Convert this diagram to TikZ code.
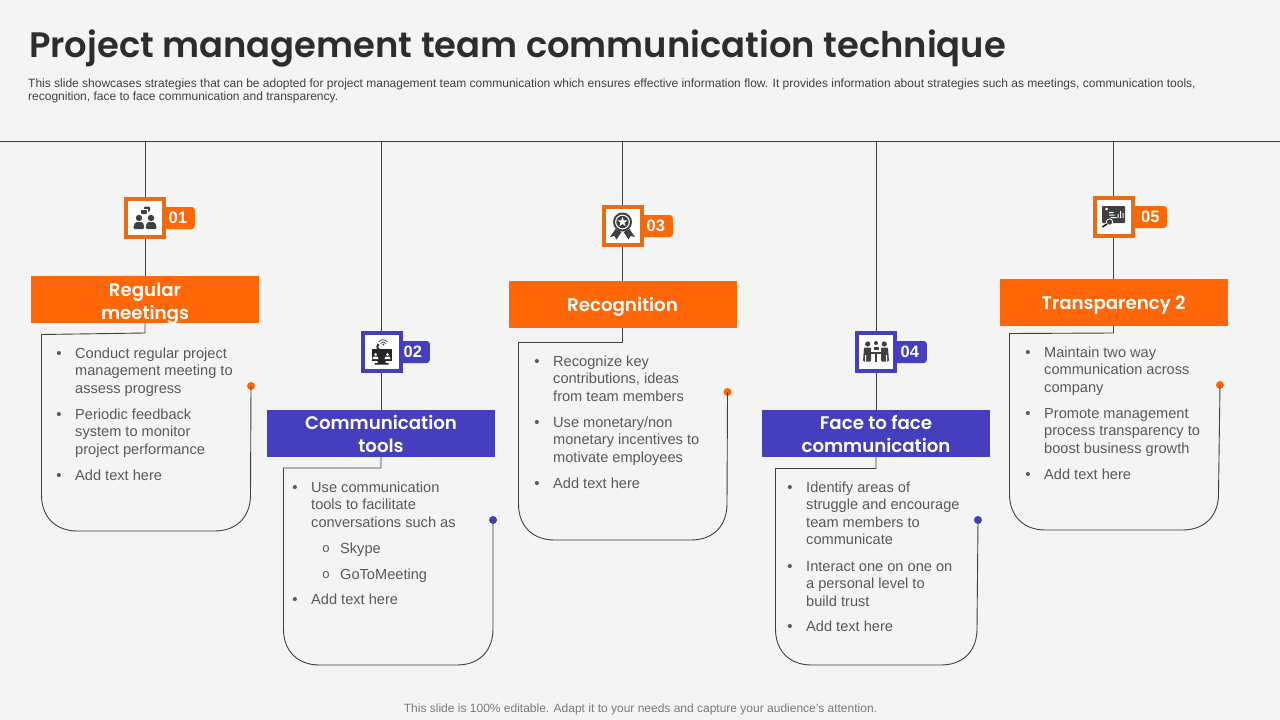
\documentclass[tikz,border=0pt]{standalone}
\usepackage{fontspec}
\setmainfont{Liberation Sans}
\newfontfamily\hdfont{Poppins}[BoldFont={Poppins SemiBold}]
\newfontfamily\monof{Liberation Mono}
\definecolor{bgc}{HTML}{F4F4F4}
\definecolor{org}{HTML}{FF6708}
\definecolor{orgb}{HTML}{E96C14}
\definecolor{blu}{HTML}{453FBF}
\definecolor{ink}{HTML}{404040}
\definecolor{txt}{HTML}{595959}
\tikzset{
  hdr/.style={fill=#1,minimum width=228,minimum height=47,inner xsep=0,inner ysep=-6,text=white,align=center,font=\hdfont\bfseries\fontsize{18.2}{23}\selectfont},
  sq/.style={draw=#1,line width=4,fill=white,minimum size=38,inner sep=0},
  tagb/.style={fill=#1,rounded corners=3,minimum height=22,inner sep=0,text=white,font=\bfseries\fontsize{16.5}{18}\selectfont},
  dot/.style={fill=#1,circle,minimum size=8,inner sep=0},
  wire/.style={draw=ink,line width=0.9},
  panel/.style={draw=ink,line width=0.9},
  para/.style={anchor=north west,inner sep=0,align=left,text=txt,font=\fontsize{14.6}{17.5}\selectfont},
  bul/.style={anchor=center,inner sep=0,text=txt,font=\fontsize{15}{15}\selectfont},
}
\newcommand{\hh}[1]{\rule{0pt}{#1pt}}
\newcommand{\panelpath}[7]{% header, xl, ytop, xr, ybot, dot, stub y
  \path[panel] (#1.south) -- (#1.south|-0,#7) coordinate (jn#1)
    (jn#1) -- (#2,#3) -- (#2,#5-36) .. controls (#2,#5-14) and (#2+14,#5) .. (#2+36,#5)
    -- (#4-36,#5) .. controls (#4-14,#5) and (#4,#5-14) .. (#4,#5-36) -- (#6.center);
}
\newcommand{\bp}[5]{% name, x, y of first-line centre, text, mark
  \node[para] (#1) at (#2,#3-7) {\strut#4\strut};
  \node[bul] (#1m) at (#2-16,#3+1.5) {#5};
}
\newcommand{\subo}{\hspace*{4pt}\raisebox{-1pt}{\monof\fontsize{13}{13}\selectfont o}}
\begin{document}
\begin{tikzpicture}[x=1pt,y=-1pt]
\useasboundingbox (0,0) rectangle (1280,720);
\fill[bgc] (0,0) rectangle (1280,720);

\node[anchor=base west,inner sep=0,text=ink!70!black,font=\hdfont\bfseries\fontsize{35.35}{40}\selectfont] (title) at (29,57) {Project management team communication technique};
\node[anchor=north west,inner sep=0,align=left,text=ink,font=\fontsize{12}{13}\selectfont] (sub) at (28,79) {This slide showcases strategies that can be adopted for project management team communication which ensures effective information flow. It provides information about strategies such as meetings, communication tools,\\recognition, face to face communication and transparency.};
\node[inner sep=0,text=ink!70!white,font=\fontsize{12}{14}\selectfont] (foot) at (640.5,709.5) {This slide is 100\% editable. Adapt it to your needs and capture your audience’s attention.};

\coordinate (L) at (0,141); \coordinate (R) at (1280,141);
\draw[wire] (L) -- (R);
\coordinate (t1) at (145.5,141); \coordinate (t2) at (381.5,141); \coordinate (t3) at (622.5,141); \coordinate (t4) at (876.5,141); \coordinate (t5) at (1113.5,141);

% headers
\node[hdr=org] (h1) at (145,299.5) {\hh{22}Regular\\meetings};
\node[hdr=blu] (h2) at (381,433.5) {Communication\\tools};
\node[hdr=org] (h3) at (622.5,304.5) {\hh{19}Recognition};
\node[hdr=blu] (h4) at (876,433.5) {Face to face\\communication};
\node[hdr=org] (h5) at (1113.5,302.5) {\hh{19}Transparency 2};

% tags (behind squares)
\node[tagb=org,minimum width=36,anchor=east] (g1) at (195,218) {\hspace*{2pt}01};
\node[tagb=blu,minimum width=36,anchor=east] (g2) at (430,352) {\hspace*{2pt}02};
\node[tagb=org,minimum width=36,anchor=east] (g3) at (673,226) {\hspace*{2pt}03};
\node[tagb=blu,minimum width=36,anchor=east] (g4) at (927,352) {\hspace*{2pt}04};
\node[tagb=org,minimum width=40,anchor=east] (g5) at (1167,217) {\hspace*{7pt}05};

% squares
\node[sq=orgb] (s1) at (145,218) {};
\node[sq=blu] (s2) at (381.5,352) {};
\node[sq=orgb] (s3) at (622.5,226) {};
\node[sq=blu] (s4) at (876,352) {};
\node[sq=orgb] (s5) at (1113.5,217) {};

\draw[wire] (t1) -- (t1|-s1.north); \draw[wire] (t1|-s1.south) -- (t1|-h1.north);
\draw[wire] (t2) -- (t2|-s2.north); \draw[wire] (t2|-s2.south) -- (t2|-h2.north);
\draw[wire] (t3) -- (t3|-s3.north); \draw[wire] (t3|-s3.south) -- (t3|-h3.north);
\draw[wire] (t4) -- (t4|-s4.north); \draw[wire] (t4|-s4.south) -- (t4|-h4.north);
\draw[wire] (t5) -- (t5|-s5.north); \draw[wire] (t5|-s5.south) -- (t5|-h5.north);

% dots
\node[dot=org] (d1) at (251,386) {};
\node[dot=blu] (d2) at (493,520) {};
\node[dot=org] (d3) at (727.5,392) {};
\node[dot=blu] (d4) at (978,520) {};
\node[dot=org] (d5) at (1220,385) {};

% panels
\panelpath{h1}{41.5}{334.5}{250.5}{531}{d1}{333}
\panelpath{h2}{283.5}{468}{493}{665}{d2}{468}
\panelpath{h3}{518.5}{342.5}{727}{540}{d3}{342.5}
\panelpath{h4}{775.5}{468.5}{977}{665}{d4}{468.5}
\panelpath{h5}{1009.5}{333.5}{1218.5}{530}{d5}{333}

% panel 1
\bp{a1}{75}{353}{Conduct regular project\\management meeting to\\assess progress}{•}
\bp{a2}{75}{414}{Periodic feedback\\system to monitor\\project performance}{•}
\bp{a3}{75}{475}{Add text here}{•}
% panel 2
\bp{b1}{311}{487}{Use communication\\tools to facilitate\\conversations such as}{•}
\bp{b2}{340}{548}{Skype}{\subo}
\bp{b3}{340}{574}{GoToMeeting}{\subo}
\bp{b4}{311}{599}{Add text here}{•}
% panel 3
\bp{c1}{553}{361}{Recognize key\\contributions, ideas\\from team members}{•}
\bp{c2}{553}{422}{Use monetary/non\\monetary incentives to\\motivate employees}{•}
\bp{c3}{553}{483}{Add text here}{•}
% panel 4
\bp{e1}{806}{487}{Identify areas of\\struggle and encourage\\team members to\\communicate}{•}
\bp{e2}{806}{566}{Interact one on one on\\a personal level to\\build trust}{•}
\bp{e3}{806}{626}{Add text here}{•}
% panel 5
\bp{f1}{1044}{352}{Maintain two way\\communication across\\company}{•}
\bp{f2}{1044}{413}{Promote management\\process transparency to\\boost business growth}{•}
\bp{f3}{1044}{474}{Add text here}{•}

% icon 1: two people and speech bubbles
\begin{scope}[shift={(s1.center)}]
  \fill[ink] (-6,0) circle (3.2) (6,0) circle (3.2);
  \fill[ink,rounded corners=1.5] (-12,11) -- (-10,4.2) -- (-2,4.2) -- (-0.4,11) -- cycle;
  \fill[ink,rounded corners=1.5] (12,11) -- (10,4.2) -- (2,4.2) -- (0.4,11) -- cycle;
  \fill[ink,rounded corners=1] (-1,-11.5) rectangle (5,-6.5);
  \fill[ink,rounded corners=1] (-4,-9) rectangle (2,-4);
  \draw[white,line width=0.5] (-4,-9) -- (2,-9) -- (2,-4);
\end{scope}
% icon 2: monitor, wifi, handset
\begin{scope}[shift={(s2.center)}]
  \fill[black!85] (-10,-3.5) rectangle (10,9);
  \fill[black!85] (-4,9) rectangle (4,11) (-7,11) rectangle (7,12.5);
  \fill[white] (-6,2.5) circle (1.5) (6,2.5) circle (1.5);
  \fill[white] (-9,7) -- (-8,4.5) -- (-4,4.5) -- (-3,7) -- cycle (9,7) -- (8,4.5) -- (4,4.5) -- (3,7) -- cycle;
  \draw[ink,line width=0.7] (-3,-10) .. controls (-1,-13) and (3,-13) .. (6,-10);
  \draw[ink,line width=0.7] (-1,-8.5) .. controls (0,-10.5) and (3,-10.5) .. (4.5,-8.5);
  \fill[ink] (1.8,-7.5) circle (1);
  \draw[black!85,line width=1.8] (-3,-8) .. controls (-6,-4) and (-3,-2) .. (1,-1);
\end{scope}
% icon 3: medal
\begin{scope}[shift={(s3.center)}]
  \fill[ink] (-7,3) -- (-12.5,11) -- (-8,10) -- (-6,13.5) -- (-1,6) -- cycle;
  \fill[ink] (7,3) -- (12.5,11) -- (8,10) -- (6,13.5) -- (1,6) -- cycle;
  \fill[ink] (0,-4) circle (9.5);
  \fill[white] (0,-4) circle (7.4);
  \fill[ink] (0,-4) circle (6.2);
  \fill[white] (0,-9) -- (1.2,-5.6) -- (4.8,-5.5) -- (2,-3.3) -- (3,0) -- (0,-2) -- (-3,0) -- (-2,-3.3) -- (-4.8,-5.5) -- (-1.2,-5.6) -- cycle;
\end{scope}
% icon 4: three people at a table
\begin{scope}[shift={(s4.center)}]
  \fill[ink] (-8.3,-8) circle (2.6) (0,-9) circle (2) (8.3,-8) circle (2.6);
  \fill[ink,rounded corners=1] (-13,9.5) -- (-12,-4.5) -- (-5,-4.5) -- (-5,9.5) -- cycle;
  \fill[ink,rounded corners=1] (13,9.5) -- (12,-4.5) -- (5,-4.5) -- (5,9.5) -- cycle;
  \fill[ink] (-2.5,-5.5) rectangle (2.5,-2);
  \fill[white] (-5,-1.5) rectangle (5,0) (-11,3) rectangle (-10,9.5) (10,3) rectangle (11,9.5);
  \fill[ink] (-7,0) rectangle (7,2);
  \fill[ink] (-1,2) rectangle (1,9.5);
\end{scope}
% icon 5: board and magnifier
\begin{scope}[shift={(s5.center)}]
  \fill[ink,rounded corners=0.8] (-11.5,-11) rectangle (11.5,6);
  \fill[white] (-7,-8) circle (1.5);
  \fill[white] (-4.5,-5) rectangle (0,-4) (-4.5,-2.5) rectangle (1,-1.5) (-3,0) rectangle (3,1);
  \fill[white] (4,-3) rectangle (5.2,1) (6.5,-6) rectangle (7.7,1) (9,-4) rectangle (10.2,1);
  \draw[white,fill=ink,line width=0.8] (-4,5) circle (3.2);
  \draw[black,line width=1.5] (-6.5,7) -- (-11,10);
\end{scope}
\end{tikzpicture}
\end{document}
